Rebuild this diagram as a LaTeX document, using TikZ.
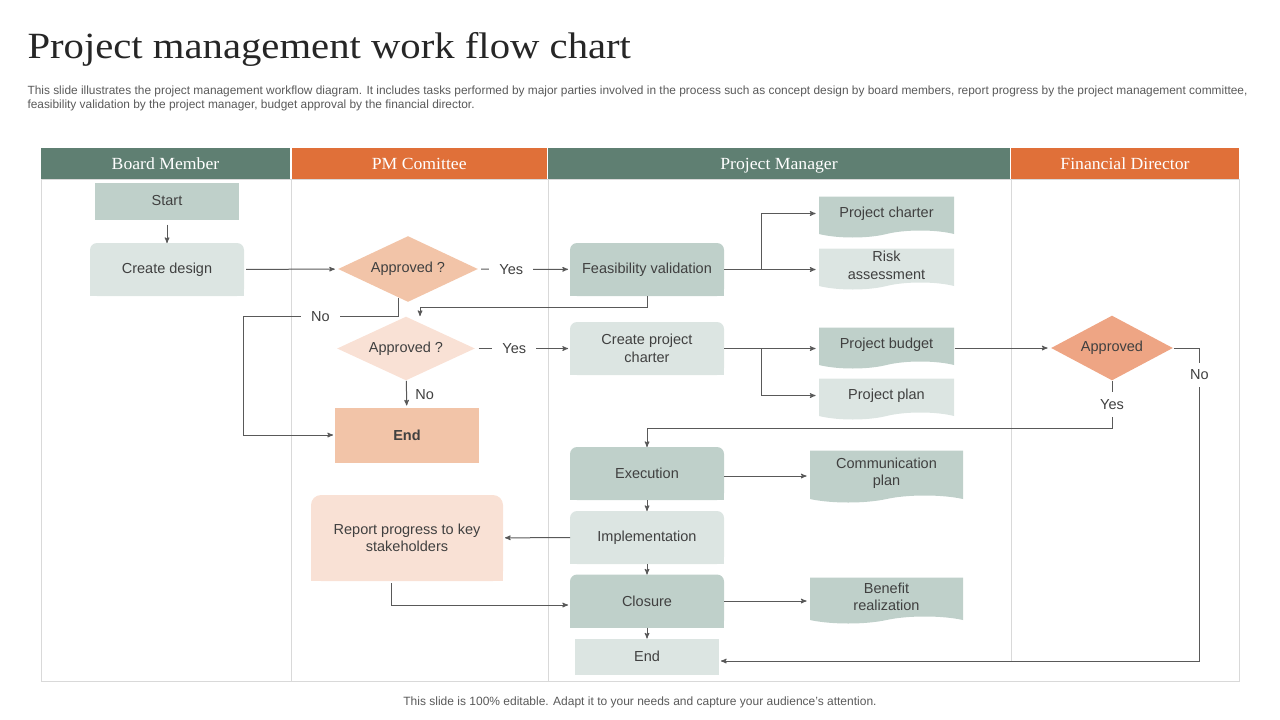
\documentclass[tikz,border=0pt]{standalone}
\usepackage{fontspec}
\setmainfont{Liberation Sans}
\newfontfamily\titlefont[FakeStretch=1.1]{Liberation Serif}
\newfontfamily\headfont[FakeStretch=1.04]{Liberation Serif}
\usetikzlibrary{arrows,shapes,backgrounds}

\definecolor{pine}{HTML}{5F7F72}
\definecolor{rust}{HTML}{E07039}
\definecolor{sage}{HTML}{BFD0CA}
\definecolor{mist}{HTML}{DCE5E2}
\definecolor{peach}{HTML}{F2C4A8}
\definecolor{blush}{HTML}{F9E1D5}
\definecolor{salmon}{HTML}{EEA584}
\definecolor{ink}{HTML}{404040}
\definecolor{wire}{HTML}{595959}
\definecolor{rule}{HTML}{D9D9D9}
\definecolor{headline}{HTML}{262626}
\definecolor{note}{HTML}{595959}

\begin{document}
\begin{tikzpicture}[
		x=1pt,y=-1pt,
		lane/.style = {rectangle,minimum height=31pt,inner sep=0pt,text=white,text height=12.5pt,text depth=1.5pt,
			font=\headfont\fontsize{17}{20}\selectfont},
		box/.style = {rectangle,minimum width=154pt,minimum height=53pt,inner sep=2pt,outer sep=0pt,align=center},
		roundtop/.style = {box,rounded corners=7pt},
		decision/.style = {diamond,aspect=2.1,inner sep=0pt,minimum width=140pt,minimum height=66pt},
		doc/.style = {tape,tape bend top=none,tape bend bottom=in and out,tape bend height=7pt,
			minimum width=135pt,minimum height=41pt,inner sep=2pt,align=center,anchor=north},
		tag/.style = {fill=white,inner xsep=10pt,inner ysep=2pt},
		every node/.style = {font=\fontsize{14.5}{17.5}\selectfont},
		>=stealth',line width=1pt,wire,text=ink]
	\useasboundingbox (0,0) rectangle (1280,720);

	\node[anchor=base west,inner sep=0pt,text=headline,font=\titlefont\fontsize{37}{40}\selectfont] (title) at (27,58) {Project management work flow chart};
	\node[anchor=west,inner sep=0pt,align=left,text=note,font=\fontsize{11.9}{14}\selectfont] (intro) at (27,98.5) {This slide illustrates the project management workflow diagram. It includes tasks performed by major parties involved in the process such as concept design by board members, report progress by the project management committee,\\feasibility validation by the project manager, budget approval by the financial director.};

	\node[lane,fill=pine,minimum width=249pt] (hboard) at (165.5,163.5) {Board Member};
	\node[lane,fill=rust,minimum width=255.5pt] (hpm) at (419.25,163.5) {PM Comittee};
	\node[lane,fill=pine,minimum width=462pt] (hmgr) at (779,163.5) {Project Manager};
	\node[lane,fill=rust,minimum width=228pt] (hfin) at (1125,163.5) {Financial Director};

	\draw[rule,line width=0.8pt] (41,179) rectangle (1239,681);
	\foreach \x in {291,548}
		\draw[rule,line width=0.8pt] (\x,179) -- (\x,681);
	\draw[rule,line width=0.8pt] (1011,179) -- (1011,661);

	\node[box,fill=sage,minimum width=144pt,minimum height=37pt] (start) at (167,201) {Start};
	\node[roundtop,fill=mist] (design) at (167,269.5) {Create design};
	\node[decision,fill=peach] (app1) at (408,269) {Approved ?};
	\node[roundtop,fill=sage] (feas) at (647,269.5) {Feasibility validation};
	\node[decision,fill=blush,minimum width=138pt,minimum height=64pt] (app2) at (406,348.5) {Approved ?};
	\node[roundtop,fill=mist] (charter) at (647,348.5) {Create project\\charter};
	\node[box,fill=peach,minimum width=144pt,minimum height=55pt,font=\bfseries\fontsize{14.5}{17.5}\selectfont] (endpm) at (407,435) {End};
	\node[doc,fill=sage] (pcharter) at (886.5,196) {Project charter};
	\node[doc,fill=mist] (risk) at (886.5,248) {Risk\\assessment};
	\node[doc,fill=sage] (budget) at (886.5,327) {Project budget};
	\node[doc,fill=mist] (plan) at (886.5,378) {Project plan};
	\node[decision,fill=salmon,minimum width=122pt,minimum height=65pt] (app3) at (1112,348) {Approved};
	\node[roundtop,fill=sage] (exec) at (647,473.5) {Execution};
	\node[roundtop,fill=mist] (impl) at (647,537.5) {Implementation};
	\node[roundtop,fill=sage] (close) at (647,601) {Closure};
	\node[box,fill=mist,minimum width=144pt,minimum height=36pt] (endfin) at (647,656.5) {End};
	\node[roundtop,fill=blush,minimum width=192pt,minimum height=86pt,rounded corners=10pt] (report) at (407,538) {Report progress to key\\stakeholders};
	\node[doc,fill=sage,minimum width=153pt,minimum height=52pt] (comm) at (886.5,450) {Communication\\plan};
	\node[doc,fill=sage,minimum width=153pt,minimum height=46pt] (benefit) at (886.5,577) {Benefit\\realization};

	\begin{scope}[on background layer]
		\foreach \n/\c in {design/mist,feas/sage,charter/mist,exec/sage,impl/mist,close/sage,report/blush}
			\fill[\c] (\n.south west) rectangle (\n.east);
	\end{scope}

	\draw[->,shorten <=5pt] (start) -- (design);
	\draw[->,shorten <=2pt,shorten >=3pt] (design) -- (app1);
	\draw[->,shorten <=3pt,shorten >=2pt] (app1) -- node[tag,pos=0.36]{Yes} (feas);
	\draw[->] (feas.south) -- ++(0,11) -| ([xshift=14pt]app2.north);
	\draw[->,shorten >=2pt] ([xshift=-10pt,yshift=5pt]app1.south) -- ++(0,19) -- node[tag]{No} ++(-155,0) |- (endpm.west);
	\draw[->,shorten <=3pt,shorten >=2pt] (app2) -- node[tag,pos=0.41]{Yes} (charter);
	\draw[->,shorten >=2pt] (app2) -- node[right,xshift=5pt]{No} (endpm);
	\draw[->,shorten >=3pt] (feas) -- (feas -| risk.west);
	\draw[->,shorten >=3pt] (feas.east) -- ++(37,0) |- (pcharter.west);
	\draw[->,shorten >=3pt] (charter) -- (charter -| budget.west);
	\draw[->,shorten >=3pt] (charter.east) -- ++(37,0) |- (plan.west);
	\draw[->,shorten >=3pt] (budget.east |- app3) -- (app3);
	\draw[->,shorten >=2pt] (app3.east) -- ++(26,0) -- node[tag,inner ysep=7pt,pos=0.086]{No} ++(0,313) -- ([yshift=-4.5pt]endfin.east);
	\draw[->] (app3.south) -- node[tag,inner ysep=7pt]{Yes} ++(0,47) -| (exec.north);
	\draw[->,shorten >=3pt] ([yshift=-2.5pt]exec.east) -- ([yshift=-2.5pt]exec.east -| comm.west);
	\draw[->] (exec) -- (impl);
	\draw[->] (impl) -- (close);
	\draw[->] (close) -- (endfin);
	\draw[->,shorten >=2pt] (impl) -- (report);
	\draw[->,shorten <=2pt,shorten >=2pt] ([xshift=-16pt]report.south) |- ([yshift=-4pt]close.west);
	\draw[->,shorten >=3pt] (close) -- (close -| benefit.west);

	\node[text=note,font=\fontsize{12}{14}\selectfont] (foot) at (640,702) {This slide is 100\% editable. Adapt it to your needs and capture your audience's attention.};
\end{tikzpicture}
\end{document}
